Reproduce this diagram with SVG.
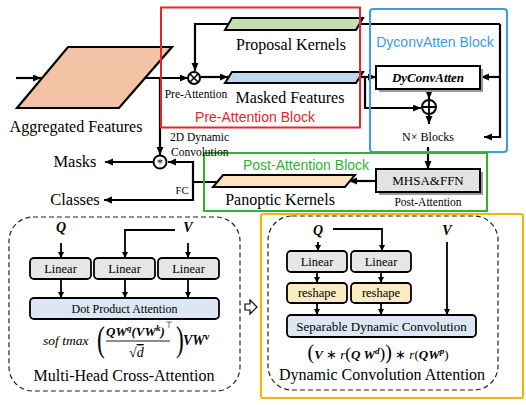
<svg xmlns="http://www.w3.org/2000/svg" width="526" height="405" viewBox="0 0 526 405">
<defs>
<marker id="ah" markerUnits="userSpaceOnUse" markerWidth="9" markerHeight="8" refX="8" refY="3.5" orient="auto"><path d="M0,0 L8,3.5 L0,7 z" fill="#000"/></marker>
<marker id="as" markerUnits="userSpaceOnUse" markerWidth="7" markerHeight="6" refX="6" refY="3" orient="auto"><path d="M0,0 L6,3 L0,6 z" fill="#000"/></marker>
<style>
.t{font-family:"Liberation Serif","Times New Roman",serif;fill:#000}
.s{font-family:"Liberation Sans",Arial,sans-serif}
.c{stroke:#000;stroke-width:2.2;fill:none}
.cs{stroke:#000;stroke-width:1.8;fill:none}
.box{stroke:#000;stroke-width:2;}
.bx{stroke:#000;stroke-width:1.8;}
.dash{fill:none;stroke:#222;stroke-width:1.2;stroke-dasharray:5,3}
.shadow{fill:#9a9a9a}
.m{font-weight:bold;font-style:italic}
</style>
</defs>
<rect width="526" height="405" fill="#fff"/>

<g id="connectors">
<path class="c" d="M16,78 H41" marker-end="url(#ah)"/>
<path class="c" d="M145,78 H188" marker-end="url(#ah)"/>
<path class="c" d="M160,78 V155" marker-end="url(#ah)"/>
<path class="c" d="M500,24 H195 V71" marker-end="url(#ah)"/>
<path class="c" d="M500,24 V137 H484" marker-end="url(#ah)"/>
<path class="c" d="M500,77 H481" marker-end="url(#ah)"/>
<path class="c" d="M200,77 H228" marker-end="url(#ah)"/>
<path class="c" d="M360,77 H376" marker-end="url(#ah)"/>
<path class="c" d="M365,77 V108 H421" marker-end="url(#ah)"/>
<path class="c" d="M429,89 V99" marker-end="url(#ah)"/>
<path class="c" d="M429,114 V124" marker-end="url(#ah)"/>
<path class="c" d="M428,147 V169" marker-end="url(#ah)"/>
<path class="c" d="M376,181 H349" marker-end="url(#ah)"/>
<path class="c" d="M217,182 H193 V162 H168" marker-end="url(#ah)"/>
<path class="c" d="M193,182 V200 H104" marker-end="url(#ah)"/>
<path class="c" d="M153,162 H105" marker-end="url(#ah)"/>
<path class="cs" d="M61,243 V258" marker-end="url(#as)"/>
<path class="cs" d="M175,230 H125 V258" marker-end="url(#as)"/>
<path class="cs" d="M188,243 V258" marker-end="url(#as)"/>
<path class="cs" d="M61,279 V298" marker-end="url(#as)"/>
<path class="cs" d="M125,279 V298" marker-end="url(#as)"/>
<path class="cs" d="M188,279 V298" marker-end="url(#as)"/>
<path class="cs" d="M318,242 V251" marker-end="url(#as)"/>
<path class="cs" d="M333,229 H382 V251" marker-end="url(#as)"/>
<path class="cs" d="M447,242 V315" marker-end="url(#as)"/>
<path class="cs" d="M317,272 V283" marker-end="url(#as)"/>
<path class="cs" d="M381,272 V283" marker-end="url(#as)"/>
<path class="cs" d="M317,303 V315" marker-end="url(#as)"/>
<path class="cs" d="M381,303 V315" marker-end="url(#as)"/>
</g>

<g id="aggregated-features">
<polygon points="68,47 172,47 119,108 17,108" fill="#f4c3a5" stroke="#000" stroke-width="2.2"/>
<text class="t" x="76" y="132" font-size="16" text-anchor="middle">Aggregated Features</text>
</g>

<g id="pre-attention-op">
<circle cx="194" cy="78" r="6" fill="#fff" stroke="#000" stroke-width="2"/>
<path d="M190,74 L198,82 M198,74 L190,82" stroke="#000" stroke-width="1.6"/>
<text class="t" x="196" y="98" font-size="11.5" text-anchor="middle">Pre-Attention</text>
</g>

<g id="proposal-kernels">
<polygon points="232,18 363,18 356,30 225,30" fill="#c5dfb3" stroke="#000" stroke-width="2"/>
<text class="t" x="291" y="50" font-size="16" text-anchor="middle">Proposal Kernels</text>
</g>

<g id="masked-features">
<polygon points="232,72 363,72 356,83 225,83" fill="#bdd7ee" stroke="#000" stroke-width="2"/>
<text class="t" x="290" y="103" font-size="16" text-anchor="middle">Masked Features</text>
</g>

<g id="pre-attention-block">
<rect x="161" y="7.5" width="199" height="120" fill="none" stroke="#e8262a" stroke-width="2"/>
<text class="s" x="255" y="122" font-size="14" fill="#e8262a" text-anchor="middle">Pre-Attention Block</text>
</g>

<g id="dyconvatten-block">
<rect x="370" y="9" width="137" height="143" rx="3" fill="none" stroke="#3d9ae8" stroke-width="2"/>
<text class="s" x="435" y="47" font-size="14" fill="#3d9ae8" text-anchor="middle">DyconvAtten Block</text>
</g>

<g id="dyconvatten">
<rect x="379" y="69" width="104" height="23" class="shadow"/>
<rect x="376" y="66" width="104" height="23" fill="#fff" class="box"/>
<text class="t m" x="428" y="82" font-size="13" text-anchor="middle">DyConvAtten</text>
</g>

<g id="add-op">
<circle cx="429" cy="107" r="7" fill="#fff" stroke="#000" stroke-width="2"/>
<path d="M422,107 H436 M429,100 V114" stroke="#000" stroke-width="1.8"/>
<text class="t" x="428" y="141" font-size="12" text-anchor="middle">N× Blocks</text>
</g>

<g id="post-attention-block">
<rect x="204" y="153" width="283" height="58" fill="none" stroke="#2db52d" stroke-width="2"/>
<text class="s" x="306" y="170" font-size="14" fill="#2db52d" text-anchor="middle">Post-Attention Block</text>
</g>

<g id="mhsa-ffn">
<rect x="379" y="172" width="104" height="23" class="shadow"/>
<rect x="376" y="169" width="104" height="23" fill="#e3e3e3" class="box"/>
<text class="t" x="428" y="185" font-size="13" text-anchor="middle">MHSA&amp;FFN</text>
<text class="t" x="428" y="206" font-size="11.5" text-anchor="middle">Post-Attention</text>
</g>

<g id="panoptic-kernels">
<polygon points="223,175 355,175 345,187 213,187" fill="#fbe4bd" stroke="#000" stroke-width="2"/>
<text class="t" x="280" y="205" font-size="16" text-anchor="middle">Panoptic Kernels</text>
</g>

<g id="dynamic-conv-op">
<circle cx="160" cy="162" r="6.5" fill="#fff" stroke="#000" stroke-width="2"/>
<text class="t" x="160" y="167" font-size="12" text-anchor="middle">*</text>
<text class="t" x="170" y="141" font-size="11.5">2D Dynamic</text>
<text class="t" x="171" y="156" font-size="11.5">Convolution</text>
<text class="t" x="182" y="194" font-size="10.5" text-anchor="middle">FC</text>
</g>

<g id="masks">
<text class="t" x="75" y="167" font-size="16.5" text-anchor="middle">Masks</text>
</g>
<g id="classes">
<text class="t" x="75" y="205" font-size="16.5" text-anchor="middle">Classes</text>
</g>

<g id="multi-head-cross-attention">
<rect x="9" y="217" width="231" height="174" rx="24" class="dash"/>
<text class="t m" x="61" y="232" font-size="14" text-anchor="middle">Q</text>
<text class="t m" x="188" y="232" font-size="14" text-anchor="middle">V</text>
<rect x="30" y="258" width="61" height="21" rx="4" fill="#e6e6e6" class="bx"/>
<rect x="94" y="258" width="61" height="21" rx="4" fill="#e6e6e6" class="bx"/>
<rect x="158" y="258" width="61" height="21" rx="4" fill="#e6e6e6" class="bx"/>
<text class="t" x="60.5" y="273" font-size="12.5" text-anchor="middle">Linear</text>
<text class="t" x="124.5" y="273" font-size="12.5" text-anchor="middle">Linear</text>
<text class="t" x="188.5" y="273" font-size="12.5" text-anchor="middle">Linear</text>
<rect x="30" y="298" width="189" height="21" rx="4" fill="#dce7f3" class="bx"/>
<text class="t" x="124.5" y="313" font-size="12" text-anchor="middle">Dot Product Attention</text>
<text class="t" x="43" y="345" font-size="13.5" font-style="italic">sof tmax</text>
<text class="t" x="97" y="351" font-size="36" transform="translate(97,351) scale(0.65,1) translate(-97,-351)">(</text>
<text class="t m" x="106" y="336" font-size="13">QW<tspan font-size="9" dy="-5">q</tspan><tspan dy="5">(VW</tspan><tspan font-size="9" dy="-5">k</tspan><tspan dy="5">)</tspan><tspan font-size="8.5" font-weight="normal" font-style="normal" dy="-8">⊤</tspan></text>
<line x1="106" y1="341" x2="170" y2="341" stroke="#000" stroke-width="0.9"/>
<text class="t" x="129" y="357" font-size="14">√<tspan font-style="italic" text-decoration="overline">d</tspan></text>
<text class="t" x="176" y="351" font-size="36" transform="translate(176,351) scale(0.65,1) translate(-176,-351)">)</text>
<text class="t m" x="183" y="345" font-size="14">VW<tspan font-size="10" dy="-5">v</tspan></text>
<text class="t" x="124" y="381" font-size="16" text-anchor="middle">Multi-Head Cross-Attention</text>
</g>

<g id="transition-arrow">
<path d="M245,304 H250 V300 L257,307 L250,314 V310 H245 Z" fill="#fff" stroke="#000" stroke-width="1.2"/>
</g>

<g id="dynamic-convolution-attention">
<rect x="261" y="214" width="262" height="184" rx="2" fill="none" stroke="#f2b705" stroke-width="2.2"/>
<rect x="268" y="216" width="230" height="174" rx="24" class="dash"/>
<text class="t m" x="318" y="235" font-size="14" text-anchor="middle">Q</text>
<text class="t m" x="447" y="235" font-size="14" text-anchor="middle">V</text>
<rect x="287" y="251" width="60" height="21" rx="4" fill="#e6e6e6" class="bx"/>
<rect x="351" y="251" width="60" height="21" rx="4" fill="#e6e6e6" class="bx"/>
<text class="t" x="317" y="266" font-size="12.5" text-anchor="middle">Linear</text>
<text class="t" x="381" y="266" font-size="12.5" text-anchor="middle">Linear</text>
<rect x="287" y="283" width="60" height="20" rx="4" fill="#fbebc0" class="bx"/>
<rect x="351" y="283" width="60" height="20" rx="4" fill="#fbebc0" class="bx"/>
<text class="t" x="317" y="297" font-size="12.5" text-anchor="middle">reshape</text>
<text class="t" x="381" y="297" font-size="12.5" text-anchor="middle">reshape</text>
<rect x="287" y="315" width="189" height="22" rx="4" fill="#dce7f3" class="bx"/>
<text class="t" x="381.5" y="331" font-size="13" text-anchor="middle">Separable Dynamic Convolution</text>
<text class="t" x="378" y="359" font-size="13" text-anchor="middle"><tspan font-size="20">(</tspan><tspan class="m">V</tspan> ∗ <tspan font-style="italic">r</tspan><tspan font-size="17">(</tspan><tspan class="m">Q W</tspan><tspan class="m" font-size="9" dy="-5">d</tspan><tspan font-size="17" dy="5">)</tspan><tspan font-size="20">)</tspan> ∗ <tspan font-style="italic">r</tspan>(<tspan class="m">QW</tspan><tspan class="m" font-size="9" dy="-5">p</tspan><tspan dy="5">)</tspan></text>
<text class="t" x="382" y="380" font-size="16" text-anchor="middle">Dynamic Convolution Attention</text>
</g>
</svg>
